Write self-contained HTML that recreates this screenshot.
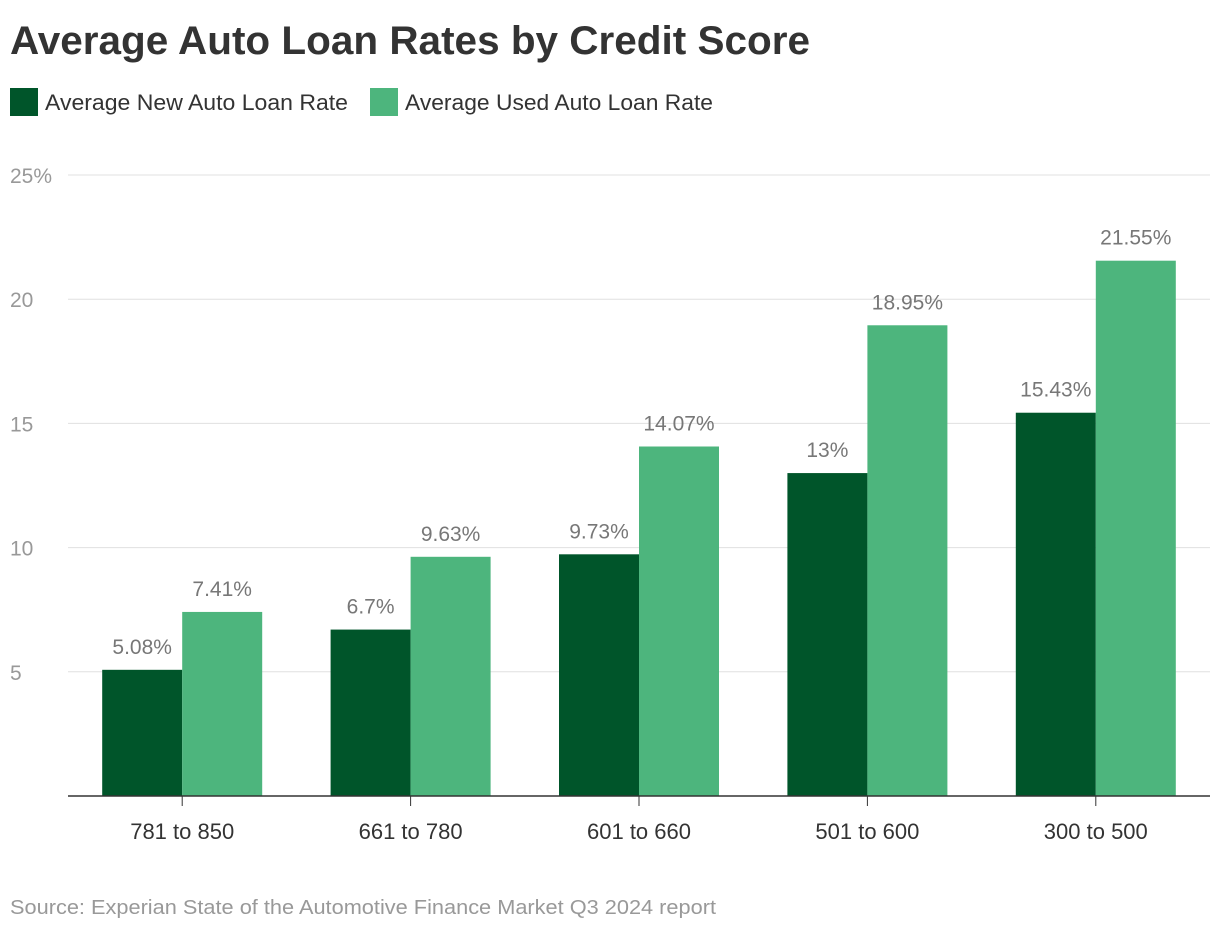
<!DOCTYPE html>
<html><head><meta charset="utf-8"><style>
body{margin:0;width:1220px;height:930px;background:#fff;font-family:"Liberation Sans",sans-serif;overflow:hidden}
</style></head><body>
<svg width="1220" height="930">
<text x="10" y="54" font-size="40" font-weight="bold" fill="#333" textLength="800" lengthAdjust="spacingAndGlyphs">Average Auto Loan Rates by Credit Score</text>
<g>
<rect x="10" y="88" width="28" height="28" fill="#00552a"/>
<text x="45" y="110" font-size="22" fill="#333" textLength="303" lengthAdjust="spacingAndGlyphs">Average New Auto Loan Rate</text>
<rect x="370" y="88" width="28" height="28" fill="#4db57d"/>
<text x="405" y="110" font-size="22" fill="#333" textLength="308" lengthAdjust="spacingAndGlyphs">Average Used Auto Loan Rate</text>
</g>
<g id="plot"></g>
<text x="10" y="914" font-size="20" fill="#999" textLength="706" lengthAdjust="spacingAndGlyphs">Source: Experian State of the Automotive Finance Market Q3 2024 report</text>
</svg>
<script>
const categories=["781 to 850","661 to 780","601 to 660","501 to 600","300 to 500"];
const newRates=[5.08,6.7,9.73,13,15.43];
const usedRates=[7.41,9.63,14.07,18.95,21.55];
const newLabels=["5.08%","6.7%","9.73%","13%","15.43%"];
const usedLabels=["7.41%","9.63%","14.07%","18.95%","21.55%"];
const yTicks=[5,10,15,20,25];
const yTickLabels=["5","10","15","20","25%"];
const NS="http://www.w3.org/2000/svg";
const g=document.getElementById('plot');
const x0=68,x1=1210,yBase=796,yTop=175,yMax=25;
const y=v=>yBase-(v/yMax)*(yBase-yTop);
const bw=(x1-x0)/categories.length;
const cx=i=>x0+bw*(i+0.5);
function el(t,a){const e=document.createElementNS(NS,t);for(const k in a)e.setAttribute(k,a[k]);g.appendChild(e);return e;}
yTicks.forEach((t,i)=>{
 const l=el('line',{x1:x0,x2:x1,y1:y(t),y2:y(t),stroke:'#e0e0e0','stroke-width':1});
 
 
 const tx=el('text',{x:10,y:y(t)+8,'font-size':21,fill:'#999'});
 tx.textContent=yTickLabels[i];
 
 
});
categories.forEach((c,i)=>{
 const c0=cx(i);
 const b1=el('rect',{x:c0-80,y:y(newRates[i]),width:80,height:yBase-y(newRates[i]),fill:'#00552a'});
 
 
 const b2=el('rect',{x:c0,y:y(usedRates[i]),width:80,height:yBase-y(usedRates[i]),fill:'#4db57d'});
 
 
 const l1=el('text',{x:c0-40,y:y(newRates[i])-16,'font-size':21,fill:'#777','text-anchor':'middle'});
 l1.textContent=newLabels[i];
 
 
 const l2=el('text',{x:c0+40,y:y(usedRates[i])-16,'font-size':21,fill:'#777','text-anchor':'middle'});
 l2.textContent=usedLabels[i];
 
 
 const tk=el('line',{x1:c0,x2:c0,y1:yBase,y2:yBase+10,stroke:'#333','stroke-width':1});
 
 
 const ct=el('text',{x:c0,y:yBase+43,'font-size':22,fill:'#333','text-anchor':'middle'});
 ct.textContent=c;
 
 
});
const ax=el('line',{x1:x0,x2:x1,y1:yBase,y2:yBase,stroke:'#333','stroke-width':1.5});


</script>
</body></html>
